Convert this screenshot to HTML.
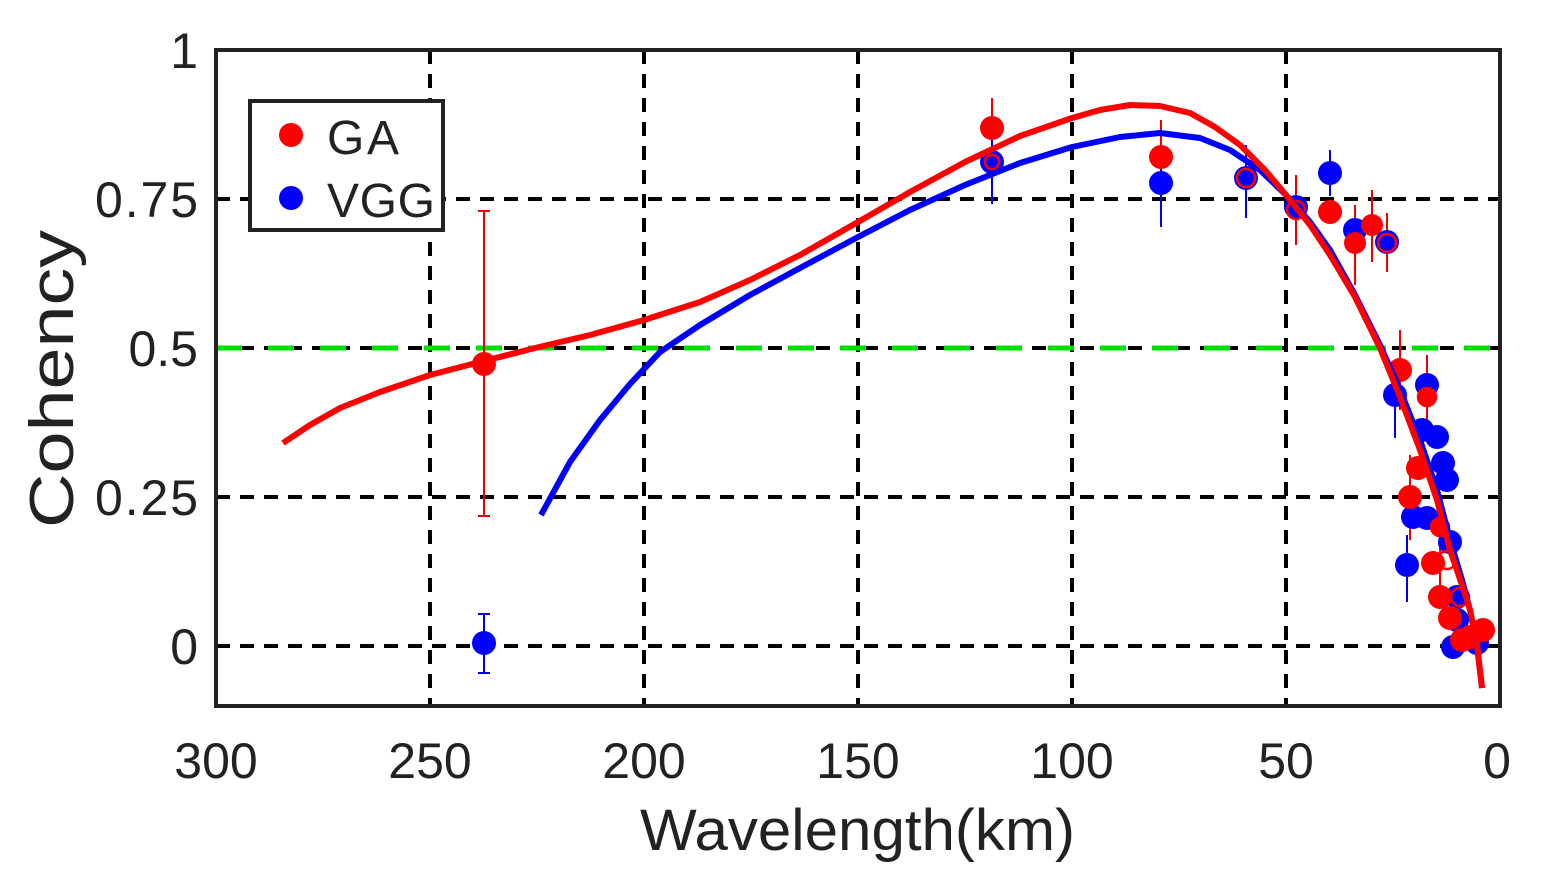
<!DOCTYPE html><html><head><style>body{margin:0;background:#fff}svg{display:block}text{font-family:"Liberation Sans",sans-serif;fill:#222}</style></head><body>
<svg width="1542" height="888" viewBox="0 0 1542 888">
<g stroke="#000" stroke-width="4" stroke-dasharray="14,10" fill="none">
<line x1="430" y1="50" x2="430" y2="706"/><line x1="644" y1="50" x2="644" y2="706"/><line x1="858" y1="50" x2="858" y2="706"/><line x1="1072" y1="50" x2="1072" y2="706"/><line x1="1286" y1="50" x2="1286" y2="706"/>
<line x1="216" y1="199" x2="1500" y2="199"/><line x1="216" y1="348" x2="1500" y2="348"/><line x1="216" y1="497" x2="1500" y2="497"/><line x1="216" y1="646" x2="1500" y2="646"/>
</g>
<line x1="216" y1="348" x2="1500" y2="348" stroke="#00e000" stroke-width="5" stroke-dasharray="26,26"/>
<g stroke="#e00" stroke-width="2" fill="none">
<line x1="484" y1="211" x2="484" y2="516"/><line x1="478" y1="211" x2="490" y2="211"/><line x1="478" y1="516" x2="490" y2="516"/>
<line x1="992" y1="98" x2="992" y2="160"/><line x1="1161" y1="120" x2="1161" y2="195"/><line x1="1296" y1="175" x2="1296" y2="245"/><line x1="1355" y1="205" x2="1355" y2="285"/><line x1="1372" y1="190" x2="1372" y2="262"/><line x1="1387" y1="213" x2="1387" y2="272"/>
<line x1="1400" y1="330" x2="1400" y2="410"/><line x1="1427" y1="355" x2="1427" y2="440"/><line x1="1410" y1="455" x2="1410" y2="540"/><line x1="1440" y1="495" x2="1440" y2="590"/>
</g>
<g stroke="#00e" stroke-width="2">
<line x1="484" y1="614" x2="484" y2="673"/><line x1="478" y1="614" x2="490" y2="614"/><line x1="478" y1="673" x2="490" y2="673"/>
<line x1="992" y1="135" x2="992" y2="204"/><line x1="1161" y1="150" x2="1161" y2="227"/><line x1="1407" y1="535" x2="1407" y2="602"/><line x1="1395" y1="360" x2="1395" y2="438"/><line x1="1330" y1="150" x2="1330" y2="196"/><line x1="1246" y1="145" x2="1246" y2="218"/>
</g>
<g fill="#00f">
<circle cx="484" cy="643" r="12"/><circle cx="992" cy="162" r="12"/><circle cx="1161" cy="183" r="12"/><circle cx="1246" cy="178" r="12"/><circle cx="1296" cy="207" r="12"/><circle cx="1330" cy="173" r="12"/><circle cx="1355" cy="230" r="12"/><circle cx="1387" cy="242" r="12"/>
<circle cx="1395" cy="395" r="12"/><circle cx="1427" cy="385" r="12"/><circle cx="1422" cy="430" r="12"/><circle cx="1437" cy="437" r="12"/><circle cx="1443" cy="463" r="12"/><circle cx="1447" cy="480" r="12"/><circle cx="1413" cy="517" r="12"/><circle cx="1427" cy="518" r="12"/><circle cx="1450" cy="542" r="12"/><circle cx="1407" cy="565" r="12"/><circle cx="1457" cy="597" r="12"/><circle cx="1457" cy="620" r="12"/><circle cx="1453" cy="647" r="12"/><circle cx="1477" cy="643" r="12"/>
</g>
<g fill="#f00">
<circle cx="484" cy="364" r="12"/><circle cx="992" cy="128" r="12"/><circle cx="1161" cy="157" r="12"/><circle cx="1330" cy="212" r="12"/><circle cx="1355" cy="243" r="11"/><circle cx="1372" cy="225" r="11"/><circle cx="1427" cy="397" r="10"/><circle cx="1440" cy="527" r="10"/>
<circle cx="1400" cy="370" r="12"/><circle cx="1418" cy="468" r="12"/><circle cx="1410" cy="497" r="12"/><circle cx="1433" cy="563" r="12"/><circle cx="1440" cy="597" r="12"/><circle cx="1450" cy="618" r="12"/><circle cx="1470" cy="637" r="12"/><circle cx="1483" cy="630" r="12"/><circle cx="1462" cy="640" r="12"/>
</g>
<g fill="none" stroke="#f00" stroke-width="2.5">
<circle cx="1246" cy="178" r="9"/><circle cx="1296" cy="210" r="9"/><circle cx="1372" cy="225" r="9"/><circle cx="1387" cy="243" r="9"/><circle cx="1427" cy="397" r="9"/><circle cx="1440" cy="527" r="9"/><circle cx="1447" cy="560" r="9"/><circle cx="1460" cy="597" r="9"/><circle cx="992" cy="162" r="7"/>
</g>
<g fill="none" stroke-width="6" stroke-linejoin="round" stroke-linecap="butt">
<polyline stroke="#00f" points="541,515 570,462 600,420 630,384 660,352 700,325 750,295 800,268 858,237 910,210 965,185 1020,163 1072,147 1120,137 1160,133 1200,138 1230,150 1260,170 1286,195 1310,222 1330,250 1355,295 1380,345 1400,390 1420,440 1437,490 1450,540 1462,580 1470,610 1477,645 1482,688"/>
<polyline stroke="#f00" points="283,443 310,425 340,408 380,392 430,375 480,362 535,348 590,335 644,320 700,302 750,280 800,255 858,222 910,192 965,162 1020,136 1072,118 1100,110 1130,105 1160,106 1190,113 1215,127 1240,145 1265,170 1286,195 1310,225 1330,255 1355,297 1380,348 1400,397 1420,450 1437,500 1450,550 1462,585 1470,610 1477,645 1482,688"/>
</g>
<rect x="216" y="50" width="1284" height="656" fill="none" stroke="#222" stroke-width="4"/>
<rect x="250" y="101" width="193" height="129" fill="#fff" stroke="#222" stroke-width="4"/>
<circle cx="291" cy="135" r="12" fill="#f00"/><text x="327" y="154" font-size="48" textLength="72">GA</text>
<circle cx="291" cy="198" r="12" fill="#00f"/><text x="327" y="217" font-size="48" textLength="108">VGG</text>
<g font-size="50" text-anchor="end">
<text x="198" y="68">1</text><text x="198" y="217" textLength="103">0.75</text><text x="198" y="366">0.5</text><text x="198" y="515" textLength="103">0.25</text><text x="198" y="664">0</text>
</g>
<g font-size="50" text-anchor="middle">
<text x="216" y="778">300</text><text x="430" y="778">250</text><text x="644" y="778">200</text><text x="858" y="778">150</text><text x="1072" y="778">100</text><text x="1286" y="778">50</text><text x="1497" y="778">0</text>
</g>
<text x="640" y="850" font-size="58" textLength="435" lengthAdjust="spacingAndGlyphs">Wavelength(km)</text>
<text transform="translate(73,528) rotate(-90)" font-size="62" textLength="298" lengthAdjust="spacingAndGlyphs">Cohency</text>
</svg></body></html>
